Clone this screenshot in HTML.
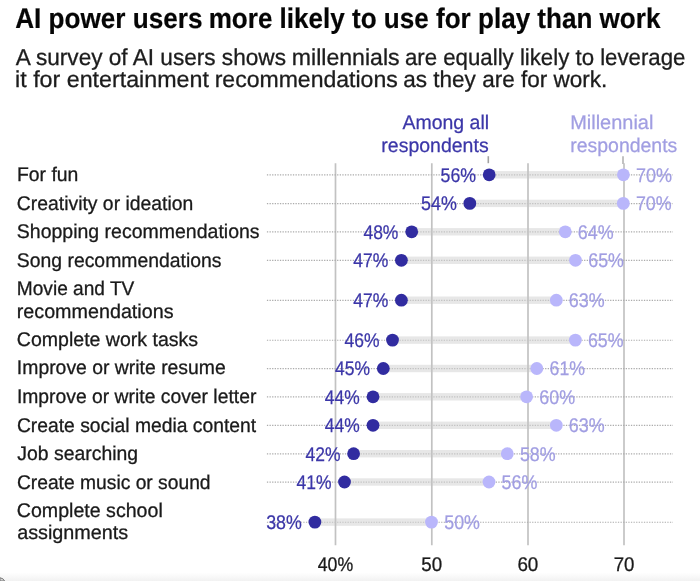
<!DOCTYPE html>
<html><head><meta charset="utf-8"><title>AI power users</title>
<style>html,body{margin:0;padding:0;background:#fff;}body{width:700px;height:581px;overflow:hidden;}svg{display:block;will-change:transform;}text{font-family:"Liberation Sans",sans-serif;text-rendering:geometricPrecision;}</style>
</head><body>
<svg width="700" height="581" viewBox="0 0 700 581">
<defs><linearGradient id="bg" x1="0" y1="0" x2="0" y2="1"><stop offset="0" stop-color="#ffffff"/><stop offset="1" stop-color="#f2f2f2"/></linearGradient></defs>
<rect x="0" y="0" width="700" height="581" fill="#fff"/>
<rect x="0" y="572.5" width="700" height="8.5" fill="url(#bg)"/>
<path d="M0 577.8 Q3.6 578.2 4.6 581 L0 581 Z" fill="#d6d6d6" stroke="#7d7d7d" stroke-width="1"/>
<rect x="489.2" y="171.1" width="134.2" height="7.4" fill="#e7e7e7"/>
<rect x="469.8" y="199.7" width="153.5" height="7.4" fill="#e7e7e7"/>
<rect x="411.7" y="228.1" width="153.6" height="7.4" fill="#e7e7e7"/>
<rect x="401.4" y="256.6" width="174.1" height="7.4" fill="#e7e7e7"/>
<rect x="401.4" y="296.5" width="154.9" height="7.4" fill="#e7e7e7"/>
<rect x="392.5" y="336.4" width="182.9" height="7.4" fill="#e7e7e7"/>
<rect x="383.3" y="364.8" width="153.5" height="7.4" fill="#e7e7e7"/>
<rect x="373.0" y="393.1" width="153.6" height="7.4" fill="#e7e7e7"/>
<rect x="373.0" y="421.6" width="183.3" height="7.4" fill="#e7e7e7"/>
<rect x="353.6" y="450.0" width="153.7" height="7.4" fill="#e7e7e7"/>
<rect x="344.5" y="478.3" width="144.5" height="7.4" fill="#e7e7e7"/>
<rect x="314.9" y="518.4" width="116.6" height="7.4" fill="#e7e7e7"/>
<line x1="335.5" y1="163.3" x2="335.5" y2="545.3" stroke="#c2c2c2" stroke-width="1.7"/>
<line x1="431.8" y1="163.3" x2="431.8" y2="545.3" stroke="#c2c2c2" stroke-width="1.7"/>
<line x1="528.0" y1="163.3" x2="528.0" y2="545.3" stroke="#c2c2c2" stroke-width="1.7"/>
<line x1="624.0" y1="163.3" x2="624.0" y2="545.3" stroke="#c2c2c2" stroke-width="1.7"/>
<line x1="488.3" y1="156.2" x2="488.3" y2="163.2" stroke="#a2a2a2" stroke-width="1.6"/>
<line x1="623.0" y1="156.2" x2="623.0" y2="164" stroke="#bcbcbc" stroke-width="1.8"/>
<line x1="266.9" y1="174.95" x2="489.2" y2="174.95" stroke="#acacac" stroke-width="1.2" stroke-dasharray="1.3 1.3"/>
<line x1="489.2" y1="174.95" x2="623.4" y2="174.95" stroke="#c2c2c2" stroke-width="1.2" stroke-dasharray="1.3 1.3" stroke-dashoffset="1.30"/>
<line x1="623.4" y1="174.95" x2="673.0" y2="174.95" stroke="#acacac" stroke-width="1.2" stroke-dasharray="1.3 1.3" stroke-dashoffset="0.30"/>
<line x1="266.9" y1="203.55" x2="469.8" y2="203.55" stroke="#acacac" stroke-width="1.2" stroke-dasharray="1.3 1.3"/>
<line x1="469.8" y1="203.55" x2="623.3" y2="203.55" stroke="#c2c2c2" stroke-width="1.2" stroke-dasharray="1.3 1.3" stroke-dashoffset="0.10"/>
<line x1="623.3" y1="203.55" x2="673.0" y2="203.55" stroke="#acacac" stroke-width="1.2" stroke-dasharray="1.3 1.3" stroke-dashoffset="0.20"/>
<line x1="266.9" y1="231.95" x2="411.7" y2="231.95" stroke="#acacac" stroke-width="1.2" stroke-dasharray="1.3 1.3"/>
<line x1="411.7" y1="231.95" x2="565.3" y2="231.95" stroke="#c2c2c2" stroke-width="1.2" stroke-dasharray="1.3 1.3" stroke-dashoffset="1.80"/>
<line x1="565.3" y1="231.95" x2="673.0" y2="231.95" stroke="#acacac" stroke-width="1.2" stroke-dasharray="1.3 1.3" stroke-dashoffset="2.00"/>
<line x1="266.9" y1="260.45" x2="401.4" y2="260.45" stroke="#acacac" stroke-width="1.2" stroke-dasharray="1.3 1.3"/>
<line x1="401.4" y1="260.45" x2="575.5" y2="260.45" stroke="#c2c2c2" stroke-width="1.2" stroke-dasharray="1.3 1.3" stroke-dashoffset="1.90"/>
<line x1="575.5" y1="260.45" x2="673.0" y2="260.45" stroke="#acacac" stroke-width="1.2" stroke-dasharray="1.3 1.3" stroke-dashoffset="1.80"/>
<line x1="266.9" y1="300.35" x2="401.4" y2="300.35" stroke="#acacac" stroke-width="1.2" stroke-dasharray="1.3 1.3"/>
<line x1="401.4" y1="300.35" x2="556.3" y2="300.35" stroke="#c2c2c2" stroke-width="1.2" stroke-dasharray="1.3 1.3" stroke-dashoffset="1.90"/>
<line x1="556.3" y1="300.35" x2="673.0" y2="300.35" stroke="#acacac" stroke-width="1.2" stroke-dasharray="1.3 1.3" stroke-dashoffset="0.80"/>
<line x1="266.9" y1="340.25" x2="392.5" y2="340.25" stroke="#acacac" stroke-width="1.2" stroke-dasharray="1.3 1.3"/>
<line x1="392.5" y1="340.25" x2="575.4" y2="340.25" stroke="#c2c2c2" stroke-width="1.2" stroke-dasharray="1.3 1.3" stroke-dashoffset="0.80"/>
<line x1="575.4" y1="340.25" x2="673.0" y2="340.25" stroke="#acacac" stroke-width="1.2" stroke-dasharray="1.3 1.3" stroke-dashoffset="1.70"/>
<line x1="266.9" y1="368.65" x2="383.3" y2="368.65" stroke="#acacac" stroke-width="1.2" stroke-dasharray="1.3 1.3"/>
<line x1="383.3" y1="368.65" x2="536.8" y2="368.65" stroke="#c2c2c2" stroke-width="1.2" stroke-dasharray="1.3 1.3" stroke-dashoffset="2.00"/>
<line x1="536.8" y1="368.65" x2="673.0" y2="368.65" stroke="#acacac" stroke-width="1.2" stroke-dasharray="1.3 1.3" stroke-dashoffset="2.10"/>
<line x1="266.9" y1="396.95" x2="373.0" y2="396.95" stroke="#acacac" stroke-width="1.2" stroke-dasharray="1.3 1.3"/>
<line x1="373.0" y1="396.95" x2="526.6" y2="396.95" stroke="#c2c2c2" stroke-width="1.2" stroke-dasharray="1.3 1.3" stroke-dashoffset="2.10"/>
<line x1="526.6" y1="396.95" x2="673.0" y2="396.95" stroke="#acacac" stroke-width="1.2" stroke-dasharray="1.3 1.3" stroke-dashoffset="2.30"/>
<line x1="266.9" y1="425.45" x2="373.0" y2="425.45" stroke="#acacac" stroke-width="1.2" stroke-dasharray="1.3 1.3"/>
<line x1="373.0" y1="425.45" x2="556.3" y2="425.45" stroke="#c2c2c2" stroke-width="1.2" stroke-dasharray="1.3 1.3" stroke-dashoffset="2.10"/>
<line x1="556.3" y1="425.45" x2="673.0" y2="425.45" stroke="#acacac" stroke-width="1.2" stroke-dasharray="1.3 1.3" stroke-dashoffset="0.80"/>
<line x1="266.9" y1="453.85" x2="353.6" y2="453.85" stroke="#acacac" stroke-width="1.2" stroke-dasharray="1.3 1.3"/>
<line x1="353.6" y1="453.85" x2="507.3" y2="453.85" stroke="#c2c2c2" stroke-width="1.2" stroke-dasharray="1.3 1.3" stroke-dashoffset="0.90"/>
<line x1="507.3" y1="453.85" x2="673.0" y2="453.85" stroke="#acacac" stroke-width="1.2" stroke-dasharray="1.3 1.3" stroke-dashoffset="1.20"/>
<line x1="266.9" y1="482.15" x2="344.5" y2="482.15" stroke="#acacac" stroke-width="1.2" stroke-dasharray="1.3 1.3"/>
<line x1="344.5" y1="482.15" x2="489.0" y2="482.15" stroke="#c2c2c2" stroke-width="1.2" stroke-dasharray="1.3 1.3" stroke-dashoffset="2.20"/>
<line x1="489.0" y1="482.15" x2="673.0" y2="482.15" stroke="#acacac" stroke-width="1.2" stroke-dasharray="1.3 1.3" stroke-dashoffset="1.10"/>
<line x1="266.9" y1="522.25" x2="314.9" y2="522.25" stroke="#acacac" stroke-width="1.2" stroke-dasharray="1.3 1.3"/>
<line x1="314.9" y1="522.25" x2="431.5" y2="522.25" stroke="#c2c2c2" stroke-width="1.2" stroke-dasharray="1.3 1.3" stroke-dashoffset="1.20"/>
<line x1="431.5" y1="522.25" x2="673.0" y2="522.25" stroke="#acacac" stroke-width="1.2" stroke-dasharray="1.3 1.3" stroke-dashoffset="0.80"/>
<text x="15.13" y="27.6" font-size="28.4" fill="#050505" font-weight="bold" textLength="187.36" lengthAdjust="spacingAndGlyphs" stroke="#050505" stroke-width="0.2">AI power users</text>
<text x="208.66" y="27.6" font-size="28.4" fill="#050505" font-weight="bold" textLength="451.76" lengthAdjust="spacingAndGlyphs" stroke="#050505" stroke-width="0.2">more likely to use for play than work</text>
<text x="15.84" y="65.2" font-size="23" fill="#1c1c1c" textLength="270.11" lengthAdjust="spacingAndGlyphs" stroke="#1c1c1c" stroke-width="0.3">A survey of AI users shows</text>
<text x="291.78" y="65.2" font-size="23" fill="#1c1c1c" textLength="107.80" lengthAdjust="spacingAndGlyphs" stroke="#1c1c1c" stroke-width="0.3">millennials</text>
<text x="404.96" y="65.2" font-size="23" fill="#1c1c1c" textLength="280.49" lengthAdjust="spacingAndGlyphs" stroke="#1c1c1c" stroke-width="0.3">are equally likely to leverage</text>
<text x="15.08" y="86.6" font-size="23" fill="#1c1c1c" textLength="193.78" lengthAdjust="spacingAndGlyphs" stroke="#1c1c1c" stroke-width="0.3">it for entertainment</text>
<text x="214.65" y="86.6" font-size="23" fill="#1c1c1c" textLength="183.13" lengthAdjust="spacingAndGlyphs" stroke="#1c1c1c" stroke-width="0.3">recommendations</text>
<text x="403.23" y="86.6" font-size="23" fill="#1c1c1c" textLength="204.13" lengthAdjust="spacingAndGlyphs" stroke="#1c1c1c" stroke-width="0.3">as they are for work.</text>
<text x="402.47" y="128.5" font-size="19.8" fill="#3b36a8" textLength="86.61" lengthAdjust="spacingAndGlyphs" stroke="#3b36a8" stroke-width="0.25">Among all</text>
<text x="381.31" y="151.6" font-size="19.8" fill="#3b36a8" textLength="107.33" lengthAdjust="spacingAndGlyphs" stroke="#3b36a8" stroke-width="0.25">respondents</text>
<text x="570.19" y="128.5" font-size="19.8" fill="#a19ee2" textLength="83.21" lengthAdjust="spacingAndGlyphs" stroke="#a19ee2" stroke-width="0.25">Millennial</text>
<text x="570.16" y="151.6" font-size="19.8" fill="#a19ee2" textLength="107.20" lengthAdjust="spacingAndGlyphs" stroke="#a19ee2" stroke-width="0.25">respondents</text>
<text x="16.92" y="181.0" font-size="19.8" fill="#1a1a1a" textLength="61.47" lengthAdjust="spacingAndGlyphs" stroke="#1a1a1a" stroke-width="0.3">For fun</text>
<text x="440.56" y="181.6" font-size="19.8" fill="#3b36a8" textLength="35.49" lengthAdjust="spacingAndGlyphs" stroke="#3b36a8" stroke-width="0.25">56%</text>
<text x="635.91" y="181.6" font-size="19.8" fill="#a19ee2" textLength="36.04" lengthAdjust="spacingAndGlyphs" stroke="#a19ee2" stroke-width="0.25">70%</text>
<text x="16.87" y="209.6" font-size="19.8" fill="#1a1a1a" textLength="176.36" lengthAdjust="spacingAndGlyphs" stroke="#1a1a1a" stroke-width="0.3">Creativity or ideation</text>
<text x="420.95" y="210.2" font-size="19.8" fill="#3b36a8" textLength="35.90" lengthAdjust="spacingAndGlyphs" stroke="#3b36a8" stroke-width="0.25">54%</text>
<text x="635.89" y="210.2" font-size="19.8" fill="#a19ee2" textLength="35.78" lengthAdjust="spacingAndGlyphs" stroke="#a19ee2" stroke-width="0.25">70%</text>
<text x="16.81" y="238.4" font-size="19.8" fill="#1a1a1a" textLength="242.80" lengthAdjust="spacingAndGlyphs" stroke="#1a1a1a" stroke-width="0.3">Shopping recommendations</text>
<text x="363.43" y="238.6" font-size="19.8" fill="#3b36a8" textLength="34.96" lengthAdjust="spacingAndGlyphs" stroke="#3b36a8" stroke-width="0.25">48%</text>
<text x="577.82" y="238.6" font-size="19.8" fill="#a19ee2" textLength="35.82" lengthAdjust="spacingAndGlyphs" stroke="#a19ee2" stroke-width="0.25">64%</text>
<text x="16.81" y="267.0" font-size="19.8" fill="#1a1a1a" textLength="204.71" lengthAdjust="spacingAndGlyphs" stroke="#1a1a1a" stroke-width="0.3">Song recommendations</text>
<text x="353.20" y="267.1" font-size="19.8" fill="#3b36a8" textLength="35.07" lengthAdjust="spacingAndGlyphs" stroke="#3b36a8" stroke-width="0.25">47%</text>
<text x="588.21" y="267.1" font-size="19.8" fill="#a19ee2" textLength="35.73" lengthAdjust="spacingAndGlyphs" stroke="#a19ee2" stroke-width="0.25">65%</text>
<text x="16.82" y="294.8" font-size="19.8" fill="#1a1a1a" textLength="117.55" lengthAdjust="spacingAndGlyphs" stroke="#1a1a1a" stroke-width="0.3">Movie and TV</text>
<text x="16.76" y="318.0" font-size="19.8" fill="#1a1a1a" textLength="156.77" lengthAdjust="spacingAndGlyphs" stroke="#1a1a1a" stroke-width="0.3">recommendations</text>
<text x="353.20" y="307.0" font-size="19.8" fill="#3b36a8" textLength="35.07" lengthAdjust="spacingAndGlyphs" stroke="#3b36a8" stroke-width="0.25">47%</text>
<text x="568.82" y="307.0" font-size="19.8" fill="#a19ee2" textLength="35.82" lengthAdjust="spacingAndGlyphs" stroke="#a19ee2" stroke-width="0.25">63%</text>
<text x="16.85" y="346.0" font-size="19.8" fill="#1a1a1a" textLength="181.24" lengthAdjust="spacingAndGlyphs" stroke="#1a1a1a" stroke-width="0.3">Complete work tasks</text>
<text x="344.46" y="346.9" font-size="19.8" fill="#3b36a8" textLength="35.00" lengthAdjust="spacingAndGlyphs" stroke="#3b36a8" stroke-width="0.25">46%</text>
<text x="587.96" y="346.9" font-size="19.8" fill="#a19ee2" textLength="35.52" lengthAdjust="spacingAndGlyphs" stroke="#a19ee2" stroke-width="0.25">65%</text>
<text x="16.87" y="374.4" font-size="19.8" fill="#1a1a1a" textLength="208.89" lengthAdjust="spacingAndGlyphs" stroke="#1a1a1a" stroke-width="0.3">Improve or write resume</text>
<text x="335.12" y="375.3" font-size="19.8" fill="#3b36a8" textLength="34.96" lengthAdjust="spacingAndGlyphs" stroke="#3b36a8" stroke-width="0.25">45%</text>
<text x="549.58" y="375.3" font-size="19.8" fill="#a19ee2" textLength="35.45" lengthAdjust="spacingAndGlyphs" stroke="#a19ee2" stroke-width="0.25">61%</text>
<text x="16.88" y="403.2" font-size="19.8" fill="#1a1a1a" textLength="239.45" lengthAdjust="spacingAndGlyphs" stroke="#1a1a1a" stroke-width="0.3">Improve or write cover letter</text>
<text x="324.82" y="403.6" font-size="19.8" fill="#3b36a8" textLength="34.89" lengthAdjust="spacingAndGlyphs" stroke="#3b36a8" stroke-width="0.25">44%</text>
<text x="539.33" y="403.6" font-size="19.8" fill="#a19ee2" textLength="35.75" lengthAdjust="spacingAndGlyphs" stroke="#a19ee2" stroke-width="0.25">60%</text>
<text x="16.89" y="431.8" font-size="19.8" fill="#1a1a1a" textLength="239.30" lengthAdjust="spacingAndGlyphs" stroke="#1a1a1a" stroke-width="0.3">Create social media content</text>
<text x="324.82" y="432.1" font-size="19.8" fill="#3b36a8" textLength="34.89" lengthAdjust="spacingAndGlyphs" stroke="#3b36a8" stroke-width="0.25">44%</text>
<text x="568.82" y="432.1" font-size="19.8" fill="#a19ee2" textLength="35.82" lengthAdjust="spacingAndGlyphs" stroke="#a19ee2" stroke-width="0.25">63%</text>
<text x="17.37" y="460.0" font-size="19.8" fill="#1a1a1a" textLength="120.71" lengthAdjust="spacingAndGlyphs" stroke="#1a1a1a" stroke-width="0.3">Job searching</text>
<text x="305.55" y="460.5" font-size="19.8" fill="#3b36a8" textLength="34.96" lengthAdjust="spacingAndGlyphs" stroke="#3b36a8" stroke-width="0.25">42%</text>
<text x="519.91" y="460.5" font-size="19.8" fill="#a19ee2" textLength="35.77" lengthAdjust="spacingAndGlyphs" stroke="#a19ee2" stroke-width="0.25">58%</text>
<text x="16.88" y="488.6" font-size="19.8" fill="#1a1a1a" textLength="193.69" lengthAdjust="spacingAndGlyphs" stroke="#1a1a1a" stroke-width="0.3">Create music or sound</text>
<text x="296.46" y="488.8" font-size="19.8" fill="#3b36a8" textLength="35.00" lengthAdjust="spacingAndGlyphs" stroke="#3b36a8" stroke-width="0.25">41%</text>
<text x="501.48" y="488.8" font-size="19.8" fill="#a19ee2" textLength="35.84" lengthAdjust="spacingAndGlyphs" stroke="#a19ee2" stroke-width="0.25">56%</text>
<text x="16.84" y="516.8" font-size="19.8" fill="#1a1a1a" textLength="145.91" lengthAdjust="spacingAndGlyphs" stroke="#1a1a1a" stroke-width="0.3">Complete school</text>
<text x="17.18" y="539.2" font-size="19.8" fill="#1a1a1a" textLength="111.07" lengthAdjust="spacingAndGlyphs" stroke="#1a1a1a" stroke-width="0.3">assignments</text>
<text x="266.18" y="528.9" font-size="19.8" fill="#3b36a8" textLength="35.62" lengthAdjust="spacingAndGlyphs" stroke="#3b36a8" stroke-width="0.25">38%</text>
<text x="444.22" y="528.9" font-size="19.8" fill="#a19ee2" textLength="35.73" lengthAdjust="spacingAndGlyphs" stroke="#a19ee2" stroke-width="0.25">50%</text>
<text x="317.74" y="571.0" font-size="19.8" fill="#1a1a1a" textLength="35.43" lengthAdjust="spacingAndGlyphs" stroke="#1a1a1a" stroke-width="0.3">40%</text>
<text x="421.22" y="571.0" font-size="19.8" fill="#1a1a1a" textLength="20.84" lengthAdjust="spacingAndGlyphs" stroke="#1a1a1a" stroke-width="0.3">50</text>
<text x="517.39" y="571.0" font-size="19.8" fill="#1a1a1a" textLength="20.97" lengthAdjust="spacingAndGlyphs" stroke="#1a1a1a" stroke-width="0.3">60</text>
<text x="613.72" y="571.0" font-size="19.8" fill="#1a1a1a" textLength="20.75" lengthAdjust="spacingAndGlyphs" stroke="#1a1a1a" stroke-width="0.3">70</text>
<circle cx="489.2" cy="174.8" r="6.4" fill="#312ca0"/>
<circle cx="623.4" cy="174.8" r="6.4" fill="#b9b6fb"/>
<circle cx="469.8" cy="203.4" r="6.4" fill="#312ca0"/>
<circle cx="623.3" cy="203.4" r="6.4" fill="#b9b6fb"/>
<circle cx="411.7" cy="231.8" r="6.4" fill="#312ca0"/>
<circle cx="565.3" cy="231.8" r="6.4" fill="#b9b6fb"/>
<circle cx="401.4" cy="260.3" r="6.4" fill="#312ca0"/>
<circle cx="575.5" cy="260.3" r="6.4" fill="#b9b6fb"/>
<circle cx="401.4" cy="300.2" r="6.4" fill="#312ca0"/>
<circle cx="556.3" cy="300.2" r="6.4" fill="#b9b6fb"/>
<circle cx="392.5" cy="340.1" r="6.4" fill="#312ca0"/>
<circle cx="575.4" cy="340.1" r="6.4" fill="#b9b6fb"/>
<circle cx="383.3" cy="368.5" r="6.4" fill="#312ca0"/>
<circle cx="536.8" cy="368.5" r="6.4" fill="#b9b6fb"/>
<circle cx="373.0" cy="396.8" r="6.4" fill="#312ca0"/>
<circle cx="526.6" cy="396.8" r="6.4" fill="#b9b6fb"/>
<circle cx="373.0" cy="425.3" r="6.4" fill="#312ca0"/>
<circle cx="556.3" cy="425.3" r="6.4" fill="#b9b6fb"/>
<circle cx="353.6" cy="453.7" r="6.4" fill="#312ca0"/>
<circle cx="507.3" cy="453.7" r="6.4" fill="#b9b6fb"/>
<circle cx="344.5" cy="482.0" r="6.4" fill="#312ca0"/>
<circle cx="489.0" cy="482.0" r="6.4" fill="#b9b6fb"/>
<circle cx="314.9" cy="522.1" r="6.4" fill="#312ca0"/>
<circle cx="431.5" cy="522.1" r="6.4" fill="#b9b6fb"/>
</svg></body></html>
